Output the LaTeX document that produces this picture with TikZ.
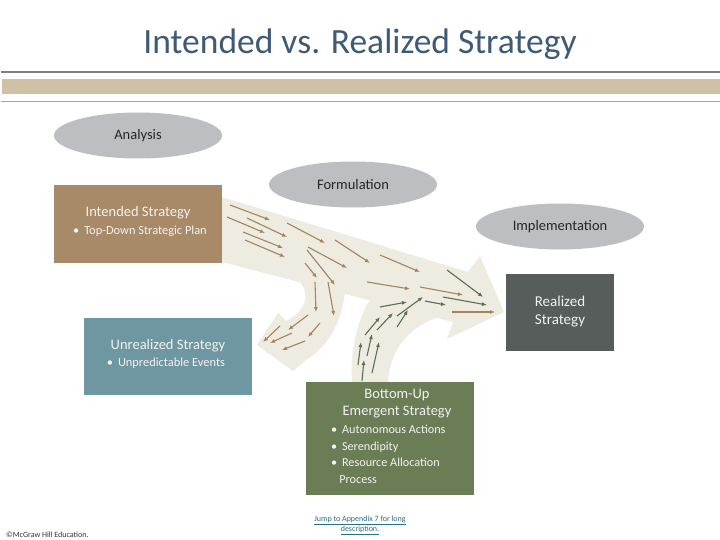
\documentclass[tikz,border=0pt]{standalone}
\usepackage{fontspec}
\setmainfont{Carlito}
\usetikzlibrary{arrows.meta,shapes.geometric}
\definecolor{titlec}{HTML}{3E5A75}
\definecolor{rulec}{HTML}{7F7F7F}
\definecolor{tanband}{HTML}{CFC1A3}
\definecolor{thinrule}{HTML}{A6A6A6}
\definecolor{ellc}{HTML}{BDBEC2}
\definecolor{intendedc}{HTML}{A88A68}
\definecolor{unrealc}{HTML}{6F97A2}
\definecolor{realc}{HTML}{565D5B}
\definecolor{buc}{HTML}{6B7D55}
\definecolor{bandc}{HTML}{EEEBE1}
\definecolor{brownarr}{HTML}{A4845F}
\definecolor{greenarr}{HTML}{5C7050}
\definecolor{linkc}{HTML}{2A6F7E}
\tikzset{
  ell/.style={ellipse, fill=ellc, draw=none, minimum width=168, minimum height=46, inner sep=0pt,
    text=black!85, font=\fontsize{14.5}{17}\selectfont},
  box/.style={rectangle, draw=none, inner sep=0pt, text=white!95!black, align=center},
  boxtext/.style={inner sep=0pt, text=white!95!black, font=\fontsize{14.5}{17}\selectfont},
  barr/.style={draw=brownarr, line width=1.1pt, -{Latex[length=5pt,width=4pt]}},
  garr/.style={draw=greenarr, line width=1.1pt, -{Latex[length=5pt,width=4pt]}},
}
\begin{document}
\begin{tikzpicture}[x=1pt,y=-1pt]
\useasboundingbox (0,0) rectangle (720,540);
\fill[white] (0,0) rectangle (720,540);
% title and rules
\node[text=titlec, font=\fontsize{35.5}{40}\selectfont, inner sep=0pt] (title) at (360,44) {Intended vs. Realized Strategy};
\draw[rulec, line width=1.6pt] (1,72) -- (720,72);
\fill[tanband] (2,79) rectangle (720,94);
\draw[thinrule, line width=0.9pt] (1,101) -- (720,101);
% background band shapes
\fill[bandc] (222,197) -- (468,272) -- (480,256) -- (504,312) -- (447,339) -- (453,322) -- (222,262) -- cycle;
\fill[bandc] (300,282) .. controls (311,296) and (305,312) .. (286,321) -- (278,313) -- (257,345) -- (293,371) -- (306,360) .. controls (330,345) and (342,320) .. (345,292) -- cycle;
\fill[bandc] (352,382) .. controls (350,350) and (357,320) .. (371,298) -- (395,305) -- (442,316) .. controls (412,325) and (391,345) .. (388,382) -- cycle;
% ellipses
\node[ell] (analysis) at (138,135.5) {Analysis};
\node[ell] (formulation) at (353,184.5) {Formulation};
\node[ell] (implementation) at (560,226.5) {Implementation};
% boxes
\node[box, fill=intendedc, minimum width=168, minimum height=78] (intended) at (138,224) {};
\node[boxtext, anchor=north] (intended-t) at (138,206) {Intended Strategy};
\node[boxtext, anchor=north, font=\fontsize{12.4}{14}\selectfont] (intended-b) at (140,226) {•\, Top-Down Strategic Plan};
\node[box, fill=unrealc, minimum width=168, minimum height=77] (unreal) at (168,356.5) {};
\node[boxtext, anchor=north] (unreal-t) at (168,339) {Unrealized Strategy};
\node[boxtext, anchor=north, font=\fontsize{12.4}{14}\selectfont] (unreal-b) at (166,358) {•\, Unpredictable Events};
\node[box, fill=realc, minimum width=108, minimum height=77] (realized) at (560,312.5) {};
\node[boxtext, align=center, font=\fontsize{15}{18}\selectfont] (realized-t) at (560,312) {Realized\\Strategy};
\node[box, fill=buc, minimum width=168, minimum height=113] (bottomup) at (390,438.5) {};
\node[boxtext, anchor=north, align=center, font=\fontsize{14.5}{16.5}\selectfont] (bu-t) at (397,389) {Bottom-Up\\Emergent Strategy};
\node[boxtext, anchor=north west, align=left, font=\fontsize{12.2}{16.5}\selectfont] (bu-l) at (331,425) {•\, Autonomous Actions\\•\, Serendipity\\•\, Resource Allocation\\\phantom{•\,}Process};
% brown arrows along main band
\draw[barr] (230,205) -- (270,220);
\draw[barr] (227,217) -- (265,233);
\draw[barr] (247,218) -- (287,237);
\draw[barr] (243,232) -- (283,248);
\draw[barr] (245,240) -- (285,257);
\draw[barr] (287,223) -- (325,243);
\draw[barr] (308,247) -- (347,268);
\draw[barr] (335,240) -- (370,263);
\draw[barr] (380,255) -- (420,272);
\draw[barr] (367,282) -- (410,289);
\draw[barr] (420,287) -- (463,295);
\draw[barr] (452,312) -- (495,312);
% brown arrows into left branch
\draw[barr] (307,250) -- (335,285);
\draw[barr] (305,263) -- (317,278);
\draw[barr] (315,282) -- (316,312);
\draw[barr] (328,282) -- (334,316);
\draw[barr] (308,315) -- (288,330);
\draw[barr] (280,326) -- (263,342);
\draw[barr] (320,323) -- (308,337);
\draw[barr] (292,333) -- (270,343);
\draw[barr] (305,341) -- (282,350);
% green arrows
\draw[garr] (447,270) -- (483,297);
\draw[garr] (443,297) -- (487,305);
\draw[garr] (425,301) -- (446,305);
\draw[garr] (380,307) -- (407,302);
\draw[garr] (397,316) -- (423,297);
\draw[garr] (377,330) -- (393,313);
\draw[garr] (397,327) -- (408,310);
\draw[garr] (365,335) -- (380,317);
\draw[garr] (358,365) -- (361,342);
\draw[garr] (367,356) -- (372,334);
\draw[garr] (372,373) -- (379,342);
\draw[garr] (362,381) -- (364,360);
% footer
\node[anchor=west, inner sep=0pt, text=black!80, font=\fontsize{8}{9}\selectfont] (copy) at (6,535) {©McGraw Hill Education.};
\node[inner sep=0pt, align=center, text=linkc, font=\fontsize{8}{10}\selectfont] (link) at (360,525) {\underline{Jump to Appendix 7 for long}\\\underline{description.}};
\end{tikzpicture}
\end{document}
